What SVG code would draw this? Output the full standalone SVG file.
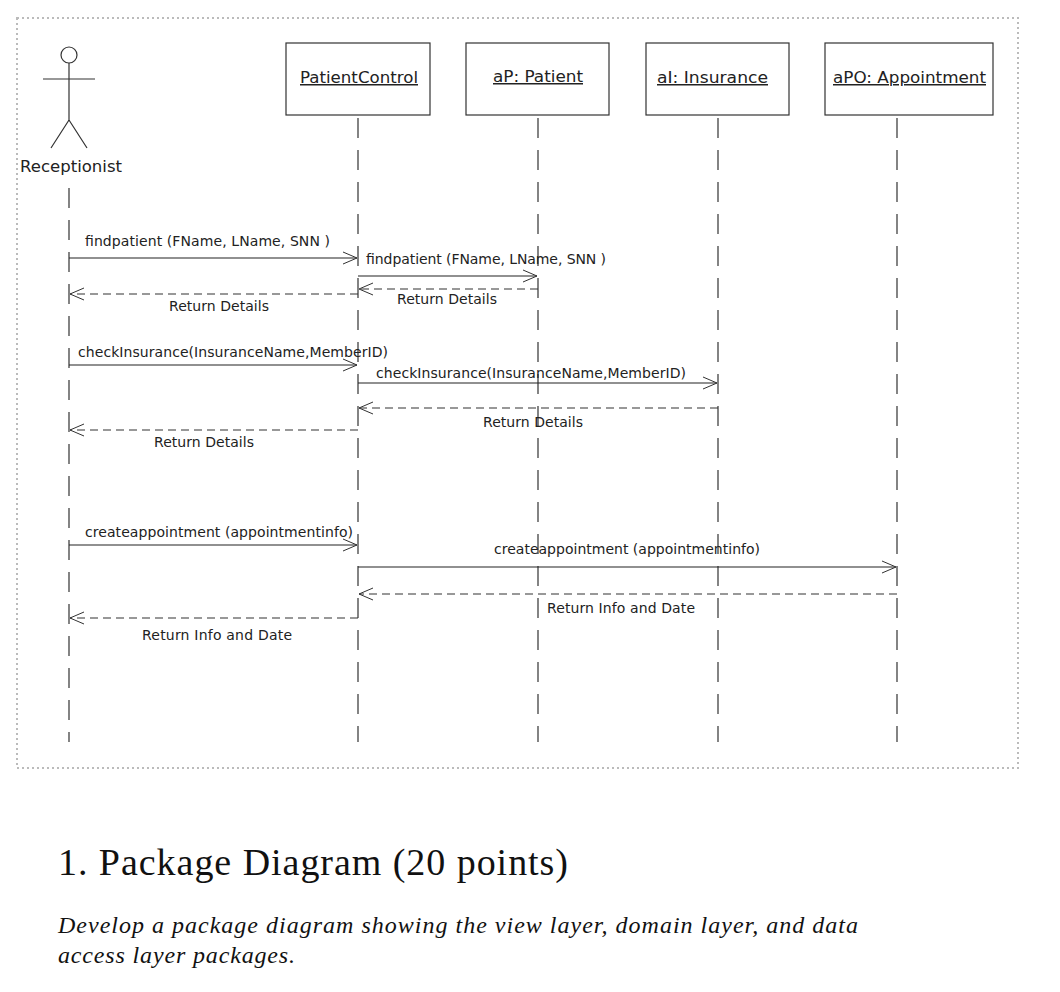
<svg xmlns="http://www.w3.org/2000/svg" width="1060" height="992" viewBox="0 0 1060 992">
<defs>
<marker id="ah" markerWidth="20" markerHeight="14" refX="16" refY="7" orient="auto" markerUnits="userSpaceOnUse"><path d="M2,1 L16,7 L2,13" fill="none" stroke="#333" stroke-width="1"/></marker>
</defs>
<style>
.box{fill:#fff;stroke:#333;stroke-width:1.2}
.ll{stroke:#333;stroke-width:1.2;stroke-dasharray:20 12;fill:none}
.lbl{font-family:"DejaVu Sans",sans-serif;font-size:15px;fill:#222;text-decoration:underline}
.m{font-family:"DejaVu Sans",sans-serif;font-size:14px;fill:#222}
.call{stroke:#222;stroke-width:1.2;fill:none;marker-end:url(#ah)}
.ret{stroke:#333;stroke-width:1.2;fill:none;stroke-dasharray:8 5;marker-end:url(#ah)}
</style>
<rect width="1060" height="992" fill="#fff"/>
<rect x="17" y="18" width="1001" height="750" fill="none" stroke="#bbb" stroke-width="2" stroke-dasharray="2 3"/>
<g id="receptionist">
<circle cx="69" cy="55" r="8" fill="none" stroke="#333" stroke-width="1.2"/>
<path d="M69,63 V120 M43,79 H95 M69,120 L51,148 M69,120 L87,148" stroke="#333" stroke-width="1.2" fill="none"/>
<text x="20" y="172" class="m" style="font-size:15px" textLength="102" lengthAdjust="spacingAndGlyphs">Receptionist</text>
<path class="ll" d="M69,188 V742"/>
</g>
<g id="patientcontrol"><rect class="box" x="286" y="43" width="144" height="72"/><text class="lbl" x="300" y="83" textLength="118" lengthAdjust="spacingAndGlyphs">PatientControl</text><path class="ll" d="M358,118 V742"/></g>
<g id="patient"><rect class="box" x="466" y="43" width="143" height="72"/><text class="lbl" x="493" y="82" textLength="90" lengthAdjust="spacingAndGlyphs">aP: Patient</text><path class="ll" d="M538,118 V742"/></g>
<g id="insurance"><rect class="box" x="646" y="43" width="143" height="72"/><text class="lbl" x="657" y="83" textLength="111" lengthAdjust="spacingAndGlyphs">aI: Insurance</text><path class="ll" d="M718,118 V742"/></g>
<g id="appointment"><rect class="box" x="825" y="43" width="168" height="72"/><text class="lbl" x="833" y="83" textLength="153" lengthAdjust="spacingAndGlyphs">aPO: Appointment</text><path class="ll" d="M897,118 V742"/></g>
<g id="connectors">
<path class="call" d="M69,258 H357"/><text class="m" x="85" y="246" textLength="245">findpatient (FName, LName, SNN )</text>
<path class="call" d="M358,276 H537"/><text class="m" x="366" y="264" textLength="240">findpatient (FName, LName, SNN )</text>
<path class="ret" d="M538,289 H359"/><text class="m" x="397" y="304" textLength="100">Return Details</text>
<path class="ret" d="M358,294 H70"/><text class="m" x="169" y="311" textLength="100">Return Details</text>
<path class="call" d="M69,365 H357"/><text class="m" x="78" y="357" textLength="310">checkInsurance(InsuranceName,MemberID)</text>
<path class="call" d="M358,383 H717"/><text class="m" x="376" y="378" textLength="310">checkInsurance(InsuranceName,MemberID)</text>
<path class="ret" d="M718,408 H359"/><text class="m" x="483" y="427" textLength="100">Return Details</text>
<path class="ret" d="M358,430 H70"/><text class="m" x="154" y="447" textLength="100">Return Details</text>
<path class="call" d="M69,545 H357"/><text class="m" x="85" y="537" textLength="268">createappointment (appointmentinfo)</text>
<path class="call" d="M358,567 H896"/><text class="m" x="494" y="554" textLength="266">createappointment (appointmentinfo)</text>
<path class="ret" d="M897,594 H359"/><text class="m" x="547" y="613" textLength="148">Return Info and Date</text>
<path class="ret" d="M358,618 H70"/><text class="m" x="142" y="640" textLength="150">Return Info and Date</text>
</g>
<text x="58" y="875" font-family="Liberation Serif,serif" font-size="38" fill="#111" textLength="510">1. Package Diagram (20 points)</text>
<text font-family="Liberation Serif,serif" font-size="24" font-style="italic" fill="#111"><tspan x="58" y="933" textLength="800">Develop a package diagram showing the view layer, domain layer, and data</tspan><tspan x="58" y="963" textLength="237">access layer packages.</tspan></text>
</svg>
